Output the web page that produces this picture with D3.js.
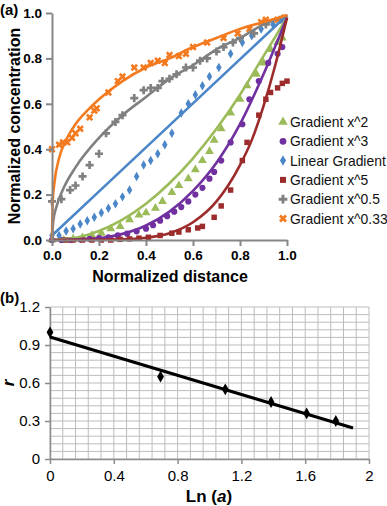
<!DOCTYPE html>
<html>
<head>
<meta charset="utf-8">
<script src="https://cdn.jsdelivr.net/npm/d3@7"></script>
<style>
  body { margin: 0; background: #fff; }
  svg { display: block; font-family: Arial, "Liberation Sans", sans-serif; }
</style>
</head>
<body>
<script>
// ---- panel (a): normalized concentration profiles ----
const seriesNames = ["Gradient x^2", "Gradient x^3", "Linear Gradient", "Gradient x^5", "Gradient x^0.5", "Gradient x^0.33"];
const seriesColors = ["#9bbb59", "#7030a0", "#4a86c8", "#9c2b2b", "#808080", "#f47a20"];

const sq_x = [0, .05, .09, .13, .17, .21, .25, .29, .33, .37, .40, .44, .47, .51, .54, .58, .61, .64, .67, .69, .72, .76, .80, .83, .87, .90, .93, .96, .98];
const sq_y = [0, 0, .005, .01, .02, .03, .05, .06, .09, .11, .12, .14, .17, .21, .24, .27, .31, .35, .39, .44, .49, .56, .62, .68, .73, .78, .84, .87, .89];

const cu_x = [0, .04, .08, .12, .16, .20, .24, .28, .32, .36, .40, .43, .46, .49, .52, .55, .58, .61, .64, .67, .69, .72, .76, .81, .84, .88, .92, .96, .98];
const cu_y = [0, 0, 0, .003, .005, .008, .012, .02, .028, .038, .05, .065, .085, .105, .125, .145, .17, .20, .23, .27, .30, .35, .43, .51, .62, .70, .78, .82, .85];

const lin_x = [0, .03, .06, .09, .12, .15, .18, .21, .24, .27, .30, .33, .36, .39, .42, .45, .48, .51, .55, .58, .61, .64, .67, .71, .76, .81, .85, .89, .94, .98];
const lin_y = [.02, .02, .04, .05, .07, .085, .10, .12, .14, .16, .19, .22, .28, .33, .35, .38, .42, .47, .56, .60, .64, .68, .72, .76, .82, .87, .90, .93, .95, .97];

const qu_x = [.06, .09, .13, .17, .21, .25, .29, .33, .37, .41, .46, .51, .54, .58, .62, .64, .69, .72, .76, .81, .83, .88, .91, .93, .96, .98, 1.0];
const qu_y = [0, 0, 0, 0, 0, 0, .003, .005, .008, .012, .02, .03, .035, .045, .053, .06, .10, .15, .22, .35, .43, .55, .62, .65, .67, .69, .70];

const sqrt_x = [0, .04, .077, .10, .13, .16, .20, .23, .27, .30, .35, .39, .42, .45, .47, .50, .53, .57, .60, .63, .66, .70, .73, .77, .80, .86, .91, .97];
const sqrt_y = [.17, .18, .22, .24, .28, .33, .38, .47, .52, .55, .625, .66, .67, .67, .70, .71, .73, .76, .76, .79, .80, .83, .85, .87, .89, .91, .95, .97];

const cbrt_x = [0, .03, .047, .065, .085, .10, .12, .16, .18, .19, .24, .28, .30, .35, .39, .42, .45, .48, .50, .54, .57, .60, .66, .73, .79, .84, .89, .91, .96, .99];
const cbrt_y = [.40, .42, .43, .43, .45, .47, .49, .54, .57, .58, .65, .70, .72, .76, .76, .78, .79, .78, .815, .81, .82, .85, .87, .89, .91, .93, .96, .97, .97, .98];

// fitted curves
const fitSq = [[0, 0], [.1, .01], [.2, .04], [.3, .09], [.4, .16], [.5, .25], [.6, .36], [.7, .49], [.8, .64], [.9, .81], [1, .98]];
const fitCu = [[0, 0], [.2, .008], [.3, .027], [.4, .064], [.5, .125], [.6, .216], [.7, .34], [.8, .51], [.9, .73], [1, .98]];
const fitLin = [[0, .02], [.5, .505], [1, .99]];
const fitQu = [[0, 0], [.3, .003], [.4, .01], [.5, .03], [.6, .078], [.7, .17], [.8, .33], [.85, .44], [.9, .59], [.95, .77], [1, .98]];
const fitSqrt = [[0, 0], [.005, .08], [.02, .15], [.05, .23], [.1, .32], [.2, .45], [.3, .55], [.4, .63], [.5, .71], [.6, .77], [.7, .84], [.8, .89], [.9, .95], [1, .99]];
const fitCbrt = [[0, 0], [.003, .17], [.01, .25], [.03, .36], [.06, .44], [.1, .51], [.15, .57], [.2, .62], [.3, .70], [.4, .76], [.5, .80], [.6, .85], [.7, .89], [.8, .93], [.9, .96], [1, .99]];

const ticksA = [0, 0.2, 0.4, 0.6, 0.8, 1.0];

// ---- panel (b): r versus ln(a) ----
const lnA = [0, 0.693, 1.099, 1.386, 1.609, 1.792];
const rVal = [1.0, 0.65, 0.55, 0.45, 0.36, 0.30];
const fitR = [[0, 0.963], [1.9, 0.245]];
const xTicksB = [0, 0.4, 0.8, 1.2, 1.6, 2];
const yTicksB = [0, 0.3, 0.6, 0.9, 1.2];

const series = [
  { xs: sq_x, ys: sq_y, fit: fitSq, sym: d3.symbolTriangle, size: 34, rot: 0 },
  { xs: cu_x, ys: cu_y, fit: fitCu, sym: d3.symbolCircle, size: 30, rot: 0 },
  { xs: lin_x, ys: lin_y, fit: fitLin, sym: d3.symbolDiamond, size: 26, rot: 0 },
  { xs: qu_x, ys: qu_y, fit: fitQu, sym: d3.symbolSquare, size: 30, rot: 0 },
  { xs: sqrt_x, ys: sqrt_y, fit: fitSqrt, sym: d3.symbolCross, size: 36, rot: 0 },
  { xs: cbrt_x, ys: cbrt_y, fit: fitCbrt, sym: d3.symbolCross, size: 34, rot: 45 }
];

const W = 387, H = 506;
const svg = d3.select("body").append("svg").attr("width", W).attr("height", H);

const axisGray = "#868686";

// ---------- (a) ----------
const xa = d3.scaleLinear().domain([0, 1]).range([52, 287]);
const ya = d3.scaleLinear().domain([0, 1]).range([240, 13]);

function styleAxis(g, color, width, fontSize, weight) {
  g.select(".domain").attr("stroke", color).attr("stroke-width", width);
  g.selectAll(".tick line").attr("stroke", color).attr("stroke-width", width);
  g.selectAll(".tick text").attr("fill", "#000").attr("font-size", fontSize)
    .attr("font-weight", weight).attr("font-family", "Arial, 'Liberation Sans', sans-serif");
}

const gA = svg.append("g");

const lineA = d3.line().x(d => xa(d[0])).y(d => ya(d[1])).curve(d3.curveMonotoneX);

series.forEach((s, i) => {
  gA.append("g").selectAll("path")
    .data(s.xs.map((x, j) => [x, s.ys[j]]))
    .join("path")
    .attr("d", d3.symbol().type(s.sym).size(s.size))
    .attr("transform", d => `translate(${xa(d[0])},${ya(d[1])}) rotate(${s.rot})`)
    .attr("fill", seriesColors[i]);
});

series.forEach((s, i) => {
  gA.append("path")
    .datum(s.fit)
    .attr("d", lineA)
    .attr("fill", "none")
    .attr("stroke", seriesColors[i])
    .attr("stroke-width", 2.6);
});

gA.append("g").attr("transform", "translate(0,240)")
  .call(d3.axisBottom(xa).tickValues(ticksA).tickFormat(d3.format(".1f")).tickSize(6).tickSizeOuter(0).tickPadding(4))
  .call(g => styleAxis(g, axisGray, 2, 13.5, "bold"));

gA.append("g").attr("transform", "translate(52,0)")
  .call(d3.axisLeft(ya).tickValues(ticksA).tickFormat(d3.format(".1f")).tickSize(6).tickSizeOuter(0).tickPadding(4))
  .call(g => styleAxis(g, axisGray, 2, 13.5, "bold"));

gA.append("text").attr("x", 170).attr("y", 282).attr("text-anchor", "middle")
  .attr("font-size", 16).attr("font-weight", "bold").text("Normalized distance");
gA.append("text").attr("transform", "translate(20,126) rotate(-90)").attr("text-anchor", "middle")
  .attr("font-size", 16).attr("font-weight", "bold").text("Normalized concentration");
gA.append("text").attr("x", 0).attr("y", 15).attr("font-size", 15).attr("font-weight", "bold").text("(a)");

// legend
const leg = gA.append("g").selectAll("g").data(seriesNames).join("g")
  .attr("transform", (d, i) => `translate(283,${122 + i * 19.3})`);
leg.append("path")
  .attr("d", (d, i) => d3.symbol().type(series[i].sym).size(series[i].size + 6)())
  .attr("transform", (d, i) => `rotate(${series[i].rot})`)
  .attr("fill", (d, i) => seriesColors[i]);
leg.append("text").attr("x", 7).attr("dy", "0.36em").attr("font-size", 13.9).attr("fill", "#111").text(d => d);

// ---------- (b) ----------
const xb = d3.scaleLinear().domain([0, 2]).range([50, 369]);
const yb = d3.scaleLinear().domain([0, 1.2]).range([459, 307]);
const gB = svg.append("g");

// minor gridlines: Excel default minor unit = major / 5
const xMinor = d3.range(0, 2 + 1e-9, 0.4 / 5);
const yMinor = d3.range(0, 1.2 + 1e-9, 0.3 / 5);
gB.append("g").selectAll("line").data(xMinor).join("line")
  .attr("x1", d => xb(d)).attr("x2", d => xb(d)).attr("y1", yb(0)).attr("y2", yb(1.2))
  .attr("stroke", "#bdbdbd").attr("stroke-width", 1);
gB.append("g").selectAll("line").data(yMinor).join("line")
  .attr("x1", xb(0)).attr("x2", xb(2)).attr("y1", d => yb(d)).attr("y2", d => yb(d))
  .attr("stroke", "#bdbdbd").attr("stroke-width", 1);

gB.append("g").attr("transform", "translate(0,459)")
  .call(d3.axisBottom(xb).tickValues(xTicksB).tickFormat(d3.format("~g")).tickSize(5).tickSizeOuter(0).tickPadding(6))
  .call(g => styleAxis(g, "#8c8c8c", 1.5, 15, "normal"));
gB.append("g").attr("transform", "translate(50,0)")
  .call(d3.axisLeft(yb).tickValues(yTicksB).tickFormat(d3.format("~g")).tickSize(5).tickSizeOuter(0).tickPadding(5))
  .call(g => styleAxis(g, "#8c8c8c", 1.5, 15, "normal"));

gB.append("path").datum(fitR)
  .attr("d", d3.line().x(d => xb(d[0])).y(d => yb(d[1])))
  .attr("stroke", "#000").attr("stroke-width", 3.2).attr("fill", "none");

gB.append("g").selectAll("path").data(lnA.map((x, i) => [x, rVal[i]])).join("path")
  .attr("d", d3.symbol().type(d3.symbolDiamond).size(40))
  .attr("transform", d => `translate(${xb(d[0])},${yb(d[1])})`)
  .attr("fill", "#000");

const lnLabel = gB.append("text").attr("x", 209).attr("y", 502).attr("text-anchor", "middle")
  .attr("font-size", 17).attr("font-weight", "bold");
lnLabel.append("tspan").text("Ln (");
lnLabel.append("tspan").attr("font-style", "italic").text("a");
lnLabel.append("tspan").text(")");

gB.append("text").attr("transform", "translate(14,383) rotate(-90)").attr("text-anchor", "middle")
  .attr("font-size", 17).attr("font-weight", "bold").attr("font-style", "italic").text("r");
gB.append("text").attr("x", 0).attr("y", 303).attr("font-size", 15).attr("font-weight", "bold").text("(b)");
</script>
</body>
</html>
